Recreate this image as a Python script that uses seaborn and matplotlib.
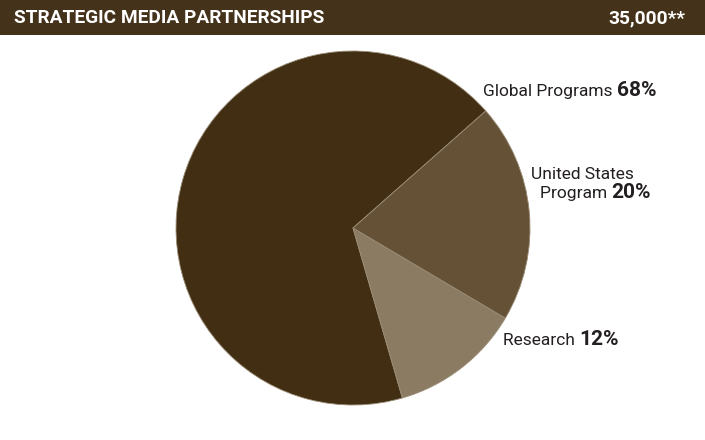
import matplotlib
matplotlib.use("Agg")
import matplotlib.pyplot as plt
import seaborn as sns
from matplotlib.patches import Rectangle

# data
categories = ["Global Programs", "Research", "United States\nProgram"]
shares = [68, 12, 20]
slice_colors = ["#422f13", "#8b7b63", "#655236"]
title = "STRATEGIC MEDIA PARTNERSHIPS"
total_label = "35,000**"

sns.set_theme(style="white")
plt.rcParams["font.family"] = ["Roboto", "DejaVu Sans"]

fig = plt.figure(figsize=(7.05, 4.4), dpi=100)
W, H = 705, 440

# header bar
fig.patches.append(Rectangle((0, 1 - 35 / H), 1, 35 / H, transform=fig.transFigure,
                             facecolor="#45321a", edgecolor="none", zorder=0))
fig.text(14 / W, 1 - 18 / H, title, color="white", fontsize=13.8, fontweight="bold",
         va="center", ha="left")
fig.text(685 / W, 1 - 18 / H, total_label, color="white", fontsize=13.8, fontweight="bold",
         va="center", ha="right")

# pie
cx, cy, r = 353, 228, 177
ax = fig.add_axes([(cx - r) / W, (H - cy - r) / H, 2 * r / W, 2 * r / H])
ax.pie(shares, colors=slice_colors, startangle=41.4, counterclock=True,
       wedgeprops=dict(linewidth=0.6, edgecolor="#9a8c76"))
ax.set_xlim(-1, 1)
ax.set_ylim(-1, 1)
ax.set_aspect("equal")
ax.axis("off")

# labels: left x / baseline y in pixels for each line
label_pos = [[(483, 96)], [(503, 345)], [(531, 179), (540, 198)]]
txt_color = "#231f20"
renderer = fig.canvas.get_renderer()
for name, val, pos in zip(categories, shares, label_pos):
    lines = name.split("\n")
    for line, (lx, ly) in zip(lines, pos):
        t = fig.text(lx / W, 1 - ly / H, line + " ", fontsize=12.5, color=txt_color,
                     ha="left", va="baseline")
    # bold percentage right after the last line, on the same baseline
    x_end = t.get_window_extent(renderer).x1
    fig.text(x_end / W, 1 - ly / H, f"{val}%", fontsize=15, fontweight="bold",
             color=txt_color, ha="left", va="baseline")

fig.savefig("out.png", dpi=100)
